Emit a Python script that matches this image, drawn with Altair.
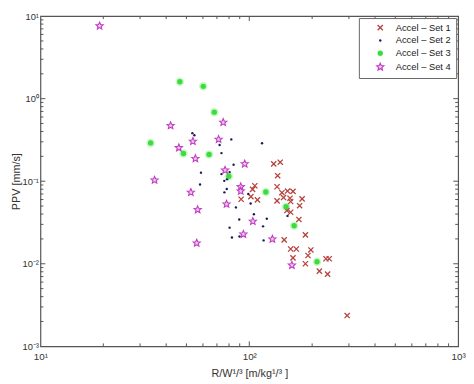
import altair as alt
import pandas as pd

series_names = ["Accel – Set 1", "Accel – Set 2", "Accel – Set 3", "Accel – Set 4"]

set1_x = [106.3, 103.7, 101.8, 91.4, 109.4, 130.9, 140.6, 136.7, 135.8, 143.3, 152.4, 161.9,
          135.8, 145.9, 156.7, 157.8, 179.0, 151.4, 157.8, 174.2, 172.8, 146.9, 185.7, 157.8,
          167.9, 197.2, 161.9, 191.0, 185.7, 232.9, 241.4, 216.6, 237.1, 294.2]
set1_y = [0.0881, 0.0796, 0.0651, 0.0605, 0.0594, 0.162, 0.170, 0.1167, 0.0857, 0.0726, 0.0760, 0.0753,
          0.0578, 0.0634, 0.0622, 0.0568, 0.0611, 0.0441, 0.0421, 0.0505, 0.0344, 0.0195, 0.0224, 0.0151,
          0.0151, 0.0147, 0.0118, 0.0126, 0.0100, 0.0115, 0.0115, 0.00815, 0.0075, 0.00236]

set2_x = [53.4, 54.6, 82.0, 115.1, 72.1, 73.6, 84.1, 58.7, 73.6, 80.5, 75.9, 78.3, 58.1, 78.0,
          76.0, 98.9, 101.5, 86.3, 105.2, 89.5, 121.3, 80.5, 116.4, 82.6, 89.8, 117.1, 152.4]
set2_y = [0.382, 0.361, 0.321, 0.288, 0.275, 0.219, 0.158, 0.127, 0.122, 0.129, 0.101, 0.106, 0.0912, 0.0804,
          0.0733, 0.0701, 0.0538, 0.0482, 0.0398, 0.0344, 0.0351, 0.0274, 0.0284, 0.0208, 0.0214, 0.0192, 0.0380]

set3_x = [46.5, 60.2, 68.0, 33.7, 48.4, 64.2, 79.8, 120, 150, 164, 211]
set3_y = [1.60, 1.41, 0.686, 0.291, 0.217, 0.211, 0.115, 0.074, 0.0491, 0.0289, 0.0106]

set4_x = [19.2, 42.0, 46.0, 53.7, 55.2, 35.2, 52.5, 56.6, 56.0, 75.0, 71.3, 76.6, 95.1, 91.0,
          91.0, 77.8, 104, 93.7, 129, 160]
set4_y = [7.6, 0.471, 0.254, 0.304, 0.188, 0.103, 0.0733, 0.0452, 0.0178, 0.516, 0.321, 0.136, 0.162, 0.0857,
          0.076, 0.0528, 0.0326, 0.0228, 0.0199, 0.0096]

x_minor = [20, 30, 40, 50, 60, 70, 80, 90, 200, 300, 400, 500, 600, 700, 800, 900]
x_major = [100]
y_minor = [m * d for d in [0.001, 0.01, 0.1, 1] for m in range(2, 10)]
y_major = [0.01, 0.1, 1]

rows = []
for name, xs, ys in zip(series_names, [set1_x, set2_x, set3_x, set4_x], [set1_y, set2_y, set3_y, set4_y]):
    for a, b in zip(xs, ys):
        rows.append({"series": name, "x": a, "y": b})
df = pd.DataFrame(rows)
df3 = df[df.series == series_names[2]]

W, H = 425, 336
FONT = "Liberation Sans"
AX = "#555555"

xscale = alt.Scale(type="log", domain=[10, 1000], nice=False)
yscale = alt.Scale(type="log", domain=[0.001, 10], nice=False)

X_PATH = "M-1,-1L1,1M-1,1L1,-1"
STAR = ("M0,-1L0.265,-0.364L0.951,-0.309L0.428,0.139L0.588,0.809L0,0.45"
        "L-0.588,0.809L-0.428,0.139L-0.951,-0.309L-0.265,-0.364Z")

leg = alt.Legend(title=None, orient="top-right", offset=2, strokeColor="#666666",
                 fillColor="white", padding=5, labelFont=FONT, labelFontSize=9.5,
                 labelColor="#222222", rowPadding=2, symbolOffset=12, labelOffset=11)

e = "round(log(datum.value)/LN10)"
sup = ("'10' + (" + e + " == 1 ? '¹' : " + e + " == 0 ? '⁰' : " + e + " == -1 ? '⁻¹' : "
       + e + " == -2 ? '⁻²' : " + e + " == -3 ? '⁻³' : " + e + " == 2 ? '²' : '³')")

x_axis = alt.Axis(values=[10, 100, 1000], labelExpr=sup, ticks=False, grid=False, domain=False,
                  title="R/W¹/³ [m/kg¹/³ ]", titleFont=FONT, titleFontSize=11, titleFontWeight="normal",
                  titleColor="#333333", labelFont=FONT, labelFontSize=10, labelColor="#333333",
                  labelPadding=5, titlePadding=7, labelFlush=False)
y_axis = alt.Axis(values=[0.001, 0.01, 0.1, 1, 10], labelExpr=sup, ticks=False, grid=False, domain=False,
                  title="PPV [mm/s]", titleFont=FONT, titleFontSize=11, titleFontWeight="normal",
                  titleColor="#333333", labelFont=FONT, labelFontSize=9.5, labelColor="#333333",
                  labelPadding=2, titlePadding=1, labelFlush=False)

X = alt.X("x:Q", scale=xscale, axis=x_axis)
Y = alt.Y("y:Q", scale=yscale, axis=y_axis)

glow = alt.Chart(df3).mark_circle(size=75, color="#9af29a", opacity=0.55).encode(x=X, y=Y)

points = alt.Chart(df).mark_point(filled=True, opacity=1).encode(
    x=X,
    y=Y,
    shape=alt.Shape("series:N", scale=alt.Scale(domain=series_names, range=[X_PATH, "circle", "circle", STAR]), legend=leg),
    stroke=alt.Stroke("series:N", scale=alt.Scale(domain=series_names, range=["#b5413c", "#1c1c50", "#3ddc3d", "#c03cc0"]), legend=leg),
    fill=alt.Fill("series:N", scale=alt.Scale(domain=series_names, range=["transparent", "#1c1c50", "#3ddc3d", "#f2c6f2"]), legend=leg),
    size=alt.Size("series:N", scale=alt.Scale(type="ordinal", domain=series_names, range=[28, 6, 30, 60]), legend=leg),
    strokeWidth=alt.StrokeWidth("series:N", scale=alt.Scale(type="ordinal", domain=series_names, range=[1.3, 0, 0, 1.1]), legend=leg),
)


def xticks(vals, length):
    d = pd.DataFrame({"x": vals})
    base = alt.Chart(d).mark_rule(color=AX, strokeWidth=1)
    return [base.encode(x=X, y=alt.value(H), y2=alt.value(H - length)),
            base.encode(x=X, y=alt.value(0), y2=alt.value(length))]


def yticks(vals, length):
    d = pd.DataFrame({"y": vals})
    base = alt.Chart(d).mark_rule(color=AX, strokeWidth=1)
    return [base.encode(y=Y, x=alt.value(0), x2=alt.value(length)),
            base.encode(y=Y, x=alt.value(W), x2=alt.value(W - length))]


tick_layers = xticks(x_minor, 3) + xticks(x_major, 5) + yticks(y_minor, 3) + yticks(y_major, 5)

chart = alt.layer(*tick_layers, glow, points).properties(
    width=W, height=H,
    autosize=alt.AutoSizeParams(type="none"),
    padding={"left": 33, "top": 5, "right": 8, "bottom": 30},
    background="white",
).configure_view(stroke=AX, strokeWidth=1.2)

chart.save("out.html", embed_options={"renderer": "svg", "actions": False})
